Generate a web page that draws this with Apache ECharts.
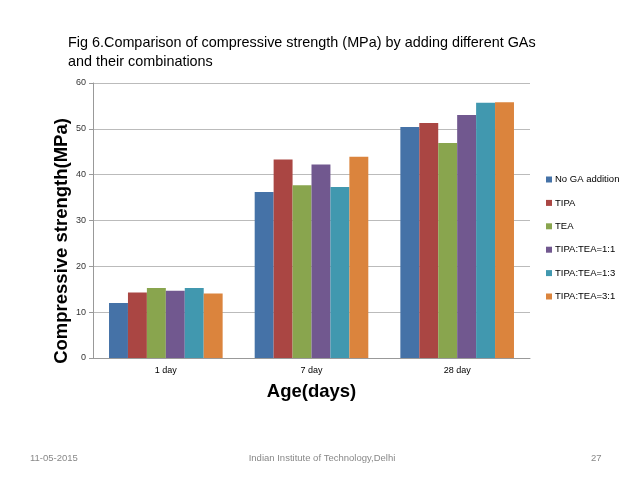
<!DOCTYPE html>
<html><head><meta charset="utf-8">
<script src="https://cdn.jsdelivr.net/npm/echarts@6/dist/echarts.min.js"></script>
<style>html,body{margin:0;padding:0;background:#fff}#c{width:638px;height:478px}</style>
</head><body><div id="c"></div>
<script>
const categories = ['1 day', '7 day', '28 day'];
const seriesNames = ['No GA addition', 'TIPA', 'TEA', 'TIPA:TEA=1:1', 'TIPA:TEA=1:3', 'TIPA:TEA=3:1'];
const noGA = [12.0, 36.2, 50.4];
const tipa = [14.3, 43.3, 51.3];
const tea = [15.3, 37.7, 46.9];
const t11 = [14.7, 42.2, 53.0];
const t13 = [15.3, 37.3, 55.7];
const t31 = [14.1, 43.9, 55.8];
const yTicks = [0, 10, 20, 30, 40, 50, 60];
const colors = ['#4572A7', '#AA4643', '#89A54E', '#71588F', '#4198AF', '#DB843D'];
const values = [noGA, tipa, tea, t11, t13, t31];

const FONT = 'Liberation Sans';
const chart = echarts.init(document.getElementById('c'), null, {renderer: 'canvas'});
chart.setOption({
  animation: false,
  color: colors,
  textStyle: {fontFamily: FONT},
  title: [
    {text: 'Fig 6.Comparison of compressive strength (MPa) by adding different GAs\nand their combinations',
     left: 63, top: 29, textStyle: {fontSize: 14.4, fontWeight: 'normal', color: '#000', lineHeight: 19, fontFamily: FONT}},
    {text: '11-05-2015', left: 25, top: 448, textStyle: {fontSize: 9.5, fontWeight: 'normal', color: '#888', fontFamily: FONT}},
    {text: 'Indian Institute of Technology,Delhi', left: 317, textAlign: 'center', top: 448, textStyle: {fontSize: 9.5, fontWeight: 'normal', color: '#888', fontFamily: FONT}},
    {text: '27', left: 586, top: 448, textStyle: {fontSize: 9.5, fontWeight: 'normal', color: '#888', fontFamily: FONT}}
  ],
  graphic: [
    {type: 'text', x: 62, y: 241, rotation: Math.PI / 2,
     style: {text: 'Compressive strength(MPa)', fontSize: 18.5, fontWeight: 'bold', fill: '#000', fontFamily: FONT,
             align: 'center', verticalAlign: 'middle'}}
  ],
  legend: {
    orient: 'vertical', left: 541, top: 169, itemWidth: 6, itemHeight: 6, itemGap: 12.4,
    icon: 'rect', textStyle: {fontSize: 9.5, color: '#000', fontFamily: FONT, padding: [0,0,0,-2], lineHeight: 11},
    data: seriesNames
  },
  grid: {left: 93, right: 108, top: 83, bottom: 120, containLabel: false},
  xAxis: {
    type: 'category', data: categories,
    axisLine: {lineStyle: {color: '#999', width: 1}},
    axisTick: {show: false},
    axisLabel: {fontSize: 9, color: '#000', margin: 8},
    name: 'Age(days)', nameLocation: 'middle', nameGap: 24,
    nameTextStyle: {fontSize: 18.5, fontWeight: 'bold', color: '#000', fontFamily: FONT}
  },
  yAxis: {
    type: 'value', min: 0, max: 60, interval: 10,
    axisLine: {show: true, lineStyle: {color: '#999', width: 1}},
    axisTick: {show: true, length: 4, lineStyle: {color: '#999'}},
    splitLine: {lineStyle: {color: '#bbb', width: 1}},
    axisLabel: {fontSize: 9, color: '#333', margin: 7},
    name: '', nameLocation: 'middle'
  },
  series: seriesNames.map((n, i) => ({
    name: n, type: 'bar', data: values[i], barGap: '0%', barCategoryGap: '22%'
  }))
});
</script></body></html>
